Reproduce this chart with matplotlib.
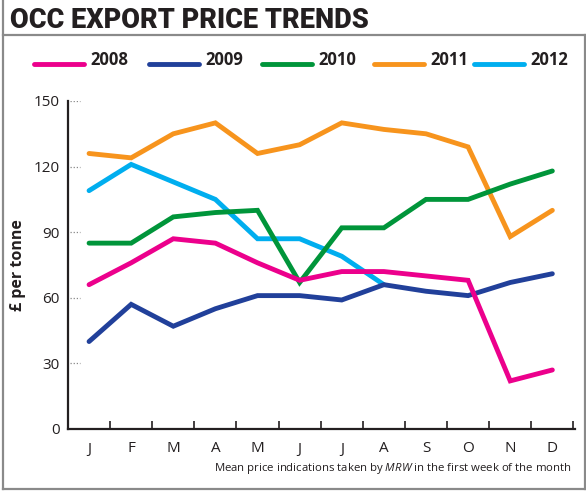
import numpy as np
import matplotlib
matplotlib.use("Agg")
import matplotlib.pyplot as plt
from matplotlib.lines import Line2D

# --- data ---
months = ["J", "F", "M", "A", "M", "J", "J", "A", "S", "O", "N", "D"]
years = ["2008", "2009", "2010", "2011", "2012"]

p2008 = [66, 76, 87, 85, 76, 68, 72, 72, 70, 68, 22, 27]
p2009 = [40, 57, 47, 55, 61, 61, 59, 66, 63, 61, 67, 71]
p2010 = [85, 85, 97, 99, 100, 67, 92, 92, 105, 105, 112, 118]
p2011 = [126, 124, 135, 140, 126, 130, 140, 137, 135, 129, 88, 100]
p2012 = [109, 121, 113, 105, 87, 87, 79, 66]

yticks = [0, 30, 60, 90, 120, 150]

series = [p2008, p2009, p2010, p2011, p2012]
colors = ["#EC008C", "#21409A", "#00953A", "#F7941D", "#00AEEF"]

plt.rcParams["font.family"] = ["Open Sans", "DejaVu Sans"]
plt.rcParams["mathtext.fontset"] = "custom"
plt.rcParams["mathtext.rm"] = "Open Sans"
plt.rcParams["mathtext.it"] = "Open Sans:italic"

W, H = 586, 493
fig = plt.figure(figsize=(W / 100, H / 100), dpi=100)


def fx(px):
    return px / W


def fy(py):
    return 1 - py / H


ax = fig.add_axes([fx(68), fy(429), fx(575.5) - fx(68), fy(101) - fy(429)])

# lines, 2008 drawn on top
for i, (vals, col) in enumerate(zip(series, colors)):
    ax.plot(np.arange(len(vals)), vals, color=col, lw=3.5,
            solid_capstyle="round", solid_joinstyle="miter", zorder=10 - i)

ax.set_xlim(-0.5, 11.55)
ax.set_ylim(0, 150)

for s in ["top", "right"]:
    ax.spines[s].set_visible(False)
for s in ["left", "bottom"]:
    ax.spines[s].set_linewidth(1.6)
    ax.spines[s].set_color("#231f20")

ax.set_xticks(range(12))
ax.set_xticklabels(months, fontsize=11, color="#231f20")
ax.set_xticks(np.arange(0.5, 12, 1), minor=True)
ax.tick_params(axis="x", which="major", length=0, pad=9)
ax.tick_params(axis="x", which="minor", direction="in", length=5.5,
               width=1.2, color="#231f20")

ax.set_yticks(yticks)
ax.set_yticklabels([str(v) for v in yticks], fontsize=11, color="#231f20")
ax.tick_params(axis="y", length=0, pad=6)
ax.hlines(yticks[1:], 0.004, 0.024, transform=ax.get_yaxis_transform(),
          colors="#888888", linestyles=(0, (1, 1.5)), lw=0.9)

# frame around the chart
gray = "#8a8a8a"
fig.add_artist(Line2D([fx(3), fx(3)], [1, fy(489)], color=gray, lw=1.6))
fig.add_artist(Line2D([fx(3), 1], [fy(35), fy(35)], color=gray, lw=1.6))
fig.add_artist(Line2D([fx(584.5), fx(584.5)], [fy(35), fy(489)], color=gray, lw=1.6))
fig.add_artist(Line2D([fx(3), fx(584.5)], [fy(489), fy(489)], color=gray, lw=1.6))

# title
fig.text(fx(10), fy(27.5), "OCC EXPORT PRICE TRENDS", family=["Roboto", "DejaVu Sans"],
         weight="black", fontsize=19.5, color="#231f20", va="baseline", ha="left")

# legend
leg_x = [34, 149, 262, 374, 474]
for x0, yr, col in zip(leg_x, years, colors):
    fig.add_artist(Line2D([fx(x0), fx(x0 + 50)], [fy(64), fy(64)], color=col,
                          lw=3.5, solid_capstyle="round"))
    fig.text(fx(x0 + 56), fy(65), yr, fontsize=12, weight="bold",
             color="#231f20", va="baseline", ha="left")

# axis label and note
fig.text(fx(18), fy(265), "£ per tonne", rotation=90, fontsize=11.5,
         weight="bold", color="#231f20", ha="center", va="center")
fig.text(fx(572), fy(469), r"Mean price indications taken by $\mathit{MRW}$ in the first week of the month",
         fontsize=8.2, color="#231f20", ha="right", va="center")

fig.savefig("out.png", dpi=100)
